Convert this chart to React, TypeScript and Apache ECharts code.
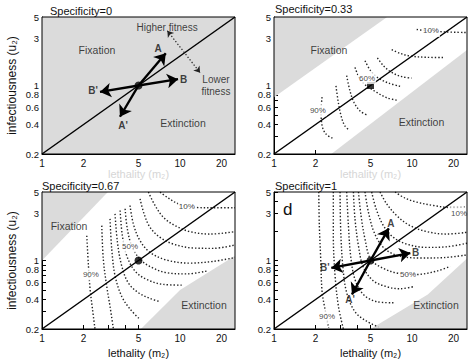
import React, { useEffect, useRef } from 'react';
import * as echarts from 'echarts';

const FONT = '"Liberation Sans", Arial, Helvetica, sans-serif';

// axes
const X_RANGE = [1, 25];
const Y_RANGE = [0.2, 5];
const X_LABELS = [1, 2, 5, 10, 20];
const X_TICKS = [1, 2, 3, 4, 5, 6, 7, 8, 9, 10, 20];
const Y_LABELS = [0.2, 0.4, 0.6, 0.8, 1, 3, 5];
const Y_TICKS = [0.2, 0.3, 0.4, 0.5, 0.6, 0.7, 0.8, 0.9, 1, 2, 3, 4, 5];

const TITLES = ['Specificity=0', 'Specificity=0.33', 'Specificity=0.67', 'Specificity=1'];
const LETTERS = ['a', 'b', 'c', 'd'];
const X_NAME = 'lethality (m\u2082)';
const Y_NAME = 'infectiousness (u\u2082)';

// common marks
const DIAGONAL = [[1, 0.2], [25, 5]];
const FOCAL = [5, 1];

// grey (deterministic) regions per panel
const GREY_A = [[[1, 0.2], [25, 0.2], [25, 5], [1, 5]]];
const GREY_B = [
  [[1, 5], [6.6, 5], [1, 0.76]],
  [[2.6, 0.2], [25, 2.3], [25, 0.2]],
];
const GREY_C = [
  [[1, 5], [3.0, 5], [1, 1.0]],
  [[25, 1.12], [10, 0.5], [5.2, 0.2], [25, 0.2]],
];
const GREY_D = [[[25, 1.05], [13, 0.45], [5, 0.2], [25, 0.2]]];

// fixation-probability contours
const CONT_B = [
  [[10.8, 3.73], [12.4, 3.64], [16.9, 3.53], [25, 3.47]],
  [[7.12, 2.32], [8.18, 2.13], [9.67, 2.0], [12.8, 1.94], [17.0, 1.93]],
  [[5.61, 1.91], [6.2, 1.59], [7.12, 1.36], [8.44, 1.23], [9.94, 1.19]],
  [[4.56, 1.79], [5.02, 1.41], [5.7, 1.19], [6.74, 1.06], [8.19, 0.98]],
  [[3.86, 1.53], [4.2, 1.16], [4.69, 0.99], [5.55, 0.85], [6.55, 0.75], [7.74, 0.71]],
  [[3.36, 1.26], [3.55, 0.88], [3.8, 0.67], [4.2, 0.55], [4.69, 0.5]],
  [[2.81, 0.99], [2.91, 0.7], [3.04, 0.51], [3.25, 0.39], [3.52, 0.35]],
  [[2.23, 0.76], [2.19, 0.55], [2.24, 0.38], [2.38, 0.32], [2.65, 0.29]],
];
const CONT_C = [
  [[7.16, 4.99], [8.23, 4.33], [9.73, 3.79], [13.2, 3.47], [18.4, 3.45], [25, 3.45]],
  [[5.9, 4.99], [6.59, 3.64], [7.57, 2.76], [9.2, 2.27], [11.8, 1.97], [16.5, 1.86], [25, 1.97]],
  [[5.13, 4.26], [5.49, 2.99], [6.06, 2.18], [7.16, 1.72], [8.95, 1.47], [12.5, 1.34], [17.4, 1.33], [25, 1.44]],
  [[4.34, 3.64], [4.59, 2.36], [5.13, 1.59], [6.06, 1.21], [8.0, 1.01], [11.8, 0.94], [17.4, 0.98], [25, 1.07]],
  [[4.0, 3.37], [4.15, 2.1], [4.47, 1.41], [5.13, 1.03], [6.23, 0.85], [8.0, 0.75], [11.2, 0.73], [15.6, 0.78]],
  [[3.68, 3.24], [3.82, 1.79], [4.11, 1.12], [4.72, 0.78], [5.74, 0.64], [7.57, 0.57], [10.6, 0.56]],
  [[3.38, 2.99], [3.52, 1.53], [3.78, 0.88], [4.22, 0.59], [4.99, 0.47], [6.06, 0.41], [7.16, 0.38]],
  [[3.11, 2.66], [3.2, 1.31], [3.38, 0.7], [3.78, 0.43], [4.34, 0.32], [5.13, 0.25]],
  [[2.71, 2.27], [2.78, 1.03], [2.94, 0.55], [3.11, 0.34], [3.29, 0.2]],
  [[2.11, 1.79], [2.17, 0.88], [2.23, 0.51], [2.32, 0.32], [2.42, 0.2]],
];
const CONT_D = [
  [[7.53, 5], [8.9, 4.33], [10.8, 3.94], [14.3, 3.64], [18.9, 3.47], [25, 3.5]],
  [[5.86, 5], [6.55, 3.79], [7.74, 2.87], [9.67, 2.27], [12.8, 1.97], [17.8, 1.86], [25, 1.94]],
  [[5.1, 5], [5.49, 3.37], [6.2, 2.27], [7.33, 1.72], [9.15, 1.47], [12.8, 1.36], [17.8, 1.38], [25, 1.5]],
  [[4.56, 5], [4.83, 3.11], [5.31, 1.94], [6.2, 1.36], [7.74, 1.13], [11.4, 1.06], [17.0, 1.07], [25, 1.14]],
  [[4.09, 5], [4.27, 2.87], [4.56, 1.66], [5.02, 1.03], [6.2, 0.83], [7.96, 0.74], [10.8, 0.72], [15.1, 0.78], [18.9, 0.87]],
  [[3.76, 5], [3.86, 2.66], [4.09, 1.41], [4.44, 0.85], [5.25, 0.62], [6.55, 0.54], [8.19, 0.515], [10.2, 0.54]],
  [[3.36, 5], [3.46, 2.27], [3.59, 1.12], [3.86, 0.64], [4.44, 0.45], [5.55, 0.38], [7.33, 0.37]],
  [[3.01, 5], [3.04, 2.1], [3.15, 0.88], [3.36, 0.47], [3.86, 0.3], [4.69, 0.24], [5.7, 0.21]],
  [[2.69, 5], [2.69, 1.79], [2.77, 0.7], [2.93, 0.34], [3.18, 0.2]],
  [[2.11, 5], [2.13, 2.27], [2.18, 1.03], [2.23, 0.48], [2.34, 0.32], [2.49, 0.205]],
];

// mutation arrows (tips), panels a and d
const ARROWS_A = [[7.88, 2.13], [9.67, 1.16], [2.63, 0.86], [3.67, 0.48]];
const ARROWS_D = [[6.78, 2.13], [9.72, 1.19], [2.6, 0.84], [3.67, 0.45]];
const FITNESS_ARROW = [[8.09, 3.62], [13.96, 1.35]];

// text annotations: [text, m, u, fontSize, bold, whiteBg]
type Lab = [string, number, number, number, boolean, boolean];
const LABELS_A: Lab[] = [
  ['Higher fitness', 8.05, 3.95, 10, false, false],
  ['Lower\nfitness', 18.2, 0.99, 10, false, false],
  ['Fixation', 2.5, 2.3, 10.5, false, false],
  ['Extinction', 10.5, 0.41, 10.5, false, false],
  ['A', 6.93, 2.36, 10, true, false],
  ['B', 10.6, 1.16, 10, true, false],
  ["B'", 2.34, 0.88, 10, true, false],
  ["A'", 3.86, 0.39, 10, true, false],
];
const LABELS_B: Lab[] = [
  ['Fixation', 2.5, 2.3, 10.5, false, false],
  ['Extinction', 11.7, 0.42, 10.5, false, false],
  ['10%', 13.7, 3.6, 8, false, true],
  ['60%', 4.72, 1.19, 8, false, true],
  ['90%', 2.08, 0.56, 8, false, true],
];
const LABELS_C: Lab[] = [
  ['Fixation', 1.57, 2.23, 10.5, false, false],
  ['Extinction', 14.9, 0.35, 10.5, false, false],
  ['10%', 11.2, 3.59, 8, false, true],
  ['50%', 4.34, 1.39, 8, false, true],
  ['90%', 2.26, 0.72, 8, false, true],
];
const LABELS_D: Lab[] = [
  ['Extinction', 14.9, 0.35, 10.5, false, false],
  ['10%', 21.9, 3.04, 8, false, true],
  ['50%', 9.35, 0.72, 8, false, true],
  ['90%', 2.42, 0.27, 8, false, true],
  ['A', 7.01, 2.36, 10, true, false],
  ['B', 10.6, 1.21, 10, true, false],
  ["B'", 2.33, 0.85, 10, true, false],
  ["A'", 3.56, 0.4, 10, true, false],
];

const GREYS = [GREY_A, GREY_B, GREY_C, GREY_D];
const CONTS = [[], CONT_B, CONT_C, CONT_D];
const ARROWS = [ARROWS_A, [], [], ARROWS_D];
const LABELS = [LABELS_A, LABELS_B, LABELS_C, LABELS_D];
const FOCAL_SYMBOL = ['circle', 'rect', 'circle', 'circle'];

const GRIDS = [
  { left: 42, top: 17, width: 193, height: 137 },
  { left: 274, top: 17, width: 193, height: 137 },
  { left: 42, top: 192, width: 193, height: 137 },
  { left: 274, top: 192, width: 193, height: 137 },
];
const TITLE_POS = [[50, 5], [275, 3], [42, 180], [275, 180]];
const LETTER_POS = [[51, 25], [283, 25], [50, 201], [283, 201]];

const GREY_FILL = '#dbdbdb';
const INK = '#111111';

function fmt(v: number) {
  return String(Math.round(v * 10) / 10);
}

export default function App() {
  const ref = useRef<HTMLDivElement>(null);
  useEffect(() => {
    document.body.style.margin = '0';
    if (!ref.current) return;
    const chart = echarts.init(ref.current, undefined, { renderer: 'svg' });

    const xAxis: any[] = [];
    const yAxis: any[] = [];
    const series: any[] = [];
    for (let i = 0; i < 4; i++) {
      const bottom = i >= 2;
      xAxis.push({
        type: 'log', logBase: 10, gridIndex: i, min: X_RANGE[0], max: X_RANGE[1],
        name: X_NAME, nameLocation: 'middle', nameGap: bottom ? 18 : 14,
        nameTextStyle: { fontFamily: FONT, fontSize: 11, color: bottom ? INK : '#d6d6d6' },
        axisLine: { show: true, lineStyle: { color: '#000', width: 1 } },
        axisTick: { show: true, inside: true, length: 4, customValues: X_TICKS, lineStyle: { color: '#000' } },
        axisLabel: { customValues: X_LABELS, formatter: (v: number) => fmt(v), fontFamily: FONT, fontSize: 10, color: INK, margin: 4 },
        splitLine: { show: false }, minorTick: { show: false },
      });
      yAxis.push({
        type: 'log', logBase: 10, gridIndex: i, min: Y_RANGE[0], max: Y_RANGE[1],
        name: i % 2 === 0 ? Y_NAME : '', nameLocation: 'middle', nameGap: 24,
        nameTextStyle: { fontFamily: FONT, fontSize: 12, color: INK },
        axisLine: { show: true, lineStyle: { color: '#000', width: 1 } },
        axisTick: { show: true, inside: true, length: 4, customValues: Y_TICKS, lineStyle: { color: '#000' } },
        axisLabel: { customValues: Y_LABELS, formatter: (v: number) => fmt(v), fontFamily: FONT, fontSize: 9.5, lineHeight: 8, color: INK, margin: 3 },
        splitLine: { show: false }, minorTick: { show: false },
      });
      const ax = { xAxisIndex: i, yAxisIndex: i };
      GREYS[i].forEach((poly: number[][]) => {
        series.push({
          type: 'custom', ...ax, z: 1, silent: true, data: [[1, 1]],
          renderItem: (_p: any, api: any) => ({
            type: 'polygon',
            shape: { points: poly.map((pt) => api.coord(pt)) },
            style: { fill: GREY_FILL },
          }),
        });
      });
      (CONTS[i] as number[][][]).forEach((c) => {
        series.push({
          type: 'line', ...ax, data: c, showSymbol: false, smooth: 0.35, silent: true, z: 3,
          lineStyle: { color: '#222', width: 1.4, type: [1.4, 2] },
        });
      });
      series.push({
        type: 'line', ...ax, data: DIAGONAL, showSymbol: false, silent: true, z: 4,
        lineStyle: { color: '#000', width: 1.5 },
      });
      if (i === 0) {
        series.push({
          type: 'lines', coordinateSystem: 'cartesian2d', ...ax, z: 5, silent: true,
          symbol: ['arrow', 'arrow'], symbolSize: 6,
          lineStyle: { color: '#222', width: 1.2, type: [1.3, 2], opacity: 1 },
          data: [{ coords: FITNESS_ARROW }],
        });
      }
      if ((ARROWS[i] as number[][]).length) {
        series.push({
          type: 'lines', coordinateSystem: 'cartesian2d', ...ax, z: 5, silent: true,
          symbol: ['none', 'arrow'], symbolSize: 11,
          lineStyle: { color: '#000', width: 2.4, opacity: 1 },
          data: (ARROWS[i] as number[][]).map((t) => ({ coords: [FOCAL, t] })),
        });
      }
      series.push({
        type: 'scatter', ...ax, data: [FOCAL], symbol: FOCAL_SYMBOL[i], symbolSize: i === 1 ? 7 : 8,
        itemStyle: { color: '#000' }, silent: true, z: 6,
      });
      series.push({
        type: 'scatter', ...ax, symbolSize: 1, silent: true, z: 7,
        itemStyle: { color: 'rgba(0,0,0,0)' },
        label: { show: true, position: 'inside', formatter: '{b}', color: INK, fontFamily: FONT, lineHeight: 12 },
        data: LABELS[i].map((l) => ({
          name: l[0], value: [l[1], l[2]],
          label: { fontSize: l[3], fontWeight: l[4] ? 'bold' : 'normal', backgroundColor: l[5] ? '#ffffff' : 'transparent', padding: l[5] ? [0, 1] : 0 },
        })),
      });
      series.push({
        type: 'custom', ...ax, z: 8, silent: true, data: [[1, 1]],
        renderItem: (_p: any, api: any) => {
          const a = api.coord([X_RANGE[0], Y_RANGE[1]]);
          const b = api.coord([X_RANGE[1], Y_RANGE[0]]);
          return { type: 'rect', shape: { x: a[0], y: a[1], width: b[0] - a[0], height: b[1] - a[1] }, style: { fill: 'none', stroke: '#000', lineWidth: 1 } };
        },
      });
    }

    const graphic: any[] = [];
    for (let i = 0; i < 4; i++) {
      graphic.push({ type: 'text', left: TITLE_POS[i][0], top: TITLE_POS[i][1], style: { text: TITLES[i], font: `11px ${FONT}`, fill: INK } });
      graphic.push({ type: 'text', left: LETTER_POS[i][0], top: LETTER_POS[i][1], style: { text: LETTERS[i], font: `17px ${FONT}`, fill: INK } });
    }

    chart.setOption({
      animation: false,
      backgroundColor: '#ffffff',
      grid: GRIDS.map((g) => ({ ...g, show: true, backgroundColor: '#ffffff', borderWidth: 0, containLabel: false })),
      xAxis, yAxis, series, graphic,
    });
    return () => chart.dispose();
  }, []);
  return <div ref={ref} style={{ width: 474, height: 364 }} />;
}
